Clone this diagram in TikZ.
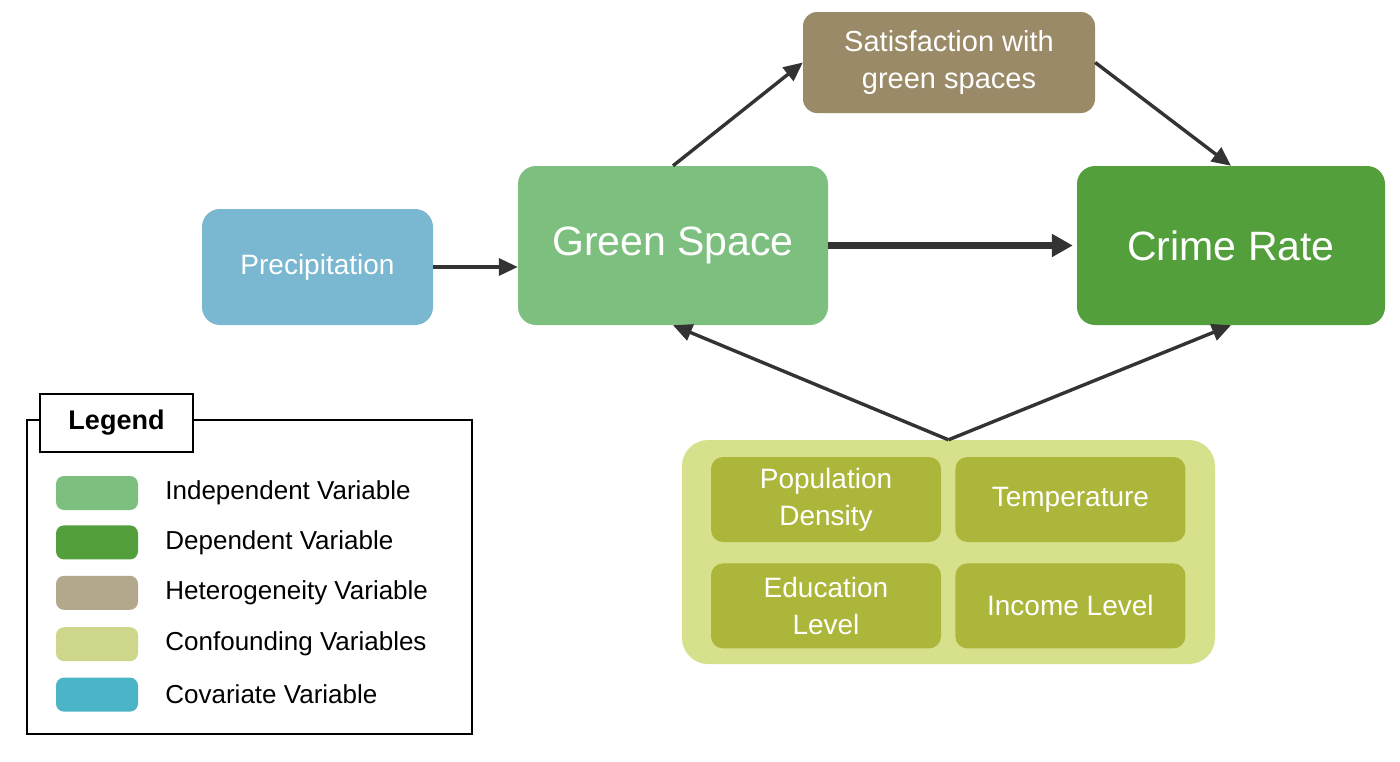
\documentclass[tikz,border=0pt]{standalone}
\usepackage{fontspec}
\setmainfont{Liberation Sans}
\usepackage{xcolor}
\usepackage{tikz}
\usetikzlibrary{positioning,arrows.meta}
\definecolor{covar}{HTML}{7AB7D1}
\definecolor{indep}{HTML}{7CBF7E}
\definecolor{dep}{HTML}{529F3B}
\definecolor{hetero}{HTML}{9A8A67}
\definecolor{confout}{HTML}{D7E18C}
\definecolor{confin}{HTML}{ABB63A}
\definecolor{leghetero}{HTML}{B3A88C}
\definecolor{legconf}{HTML}{CDD68B}
\definecolor{legcovar}{HTML}{4BB4C6}
\definecolor{ink}{HTML}{333333}
\newcommand{\bigtext}{\fontsize{41}{49}\selectfont}
\newcommand{\midtext}{\fontsize{28}{37}\selectfont}
\newcommand{\legtext}{\fontsize{26}{30}\selectfont}

\begin{document}
\begin{tikzpicture}[x=1pt,y=-1pt,every node/.style={font=\midtext},
      var/.style={rounded corners=18pt,text=white,align=center,inner sep=0pt},
      conf/.style={var,fill=confin,minimum width=230pt,minimum height=85pt,rounded corners=12pt},
      swatch/.style={rounded corners=8pt,minimum width=82pt,minimum height=34pt,inner sep=0pt},
      legtext/.style={anchor=west,inner sep=0pt,text=black,font=\legtext},
      arrow/.style={-{Triangle[length=19pt,width=17pt]},line width=3.4pt,ink}]
      \fill[white] (0,0) rectangle (1400,761);
      \useasboundingbox (0,0) rectangle (1400,761);
      % main variables
      \node[var,fill=covar,minimum width=231pt,minimum height=116pt] (precip) at (317.5,267) {Precipitation};
      \node[var,fill=indep,minimum width=310pt,minimum height=159pt,font=\bigtext] (green) at (673,245.5) {Green Space};
      \node[var,fill=dep,minimum width=308pt,minimum height=159pt,font=\bigtext] (crime) at (1231,245.5) {Crime Rate};
      \node[var,fill=hetero,minimum width=292pt,minimum height=101pt,rounded corners=14pt,font=\fontsize{29}{37}\selectfont] (satis) at (949,62.5) {Satisfaction with\\green spaces};
      % confounders
      \node[var,fill=confout,minimum width=533pt,minimum height=224pt,rounded corners=26pt] (conf) at (948.5,552) {};
      \node[conf] (popdens) at (826,499.5) {Population\\Density};
      \node[conf,right=14pt of popdens] (temp) {Temperature};
      \node[conf,below=21pt of popdens] (edu) {Education\\Level};
      \node[conf,right=14pt of edu] (income) {Income Level};
      % connectors
      \draw[arrow] (precip.east) -- (precip.east -| green.west);
      \draw[arrow,line width=6.5pt,-{Triangle[length=21pt,width=22pt]},shorten >=4pt] (green.east) -- (crime.west);
      \draw[arrow] (green.north) -- (satis.west);
      \draw[arrow] (satis.east) -- (crime.north);
      \draw[arrow] (conf.north) -- (green.south);
      \draw[arrow] (conf.north) -- (crime.south);
      % legend
      \node[draw=black,line width=1.3pt,minimum width=445pt,minimum height=314pt,inner sep=0pt] (legbox) at (249.5,577) {};
      \node[draw=black,line width=1.3pt,fill=white,minimum width=153pt,minimum height=58pt,inner sep=0pt,font=\fontsize{27}{30}\selectfont\bfseries] (legtitle) at (116.5,423) {Legend};
      \node[swatch,fill=indep] (sw1) at (97,493) {};
      \node[swatch,fill=dep,below=15pt of sw1] (sw2) {};
      \node[swatch,fill=leghetero,below=16pt of sw2] (sw3) {};
      \node[swatch,fill=legconf,below=17pt of sw3] (sw4) {};
      \node[swatch,fill=legcovar,below=16pt of sw4] (sw5) {};
      \node[legtext,right=27pt of sw1] {Independent Variable};
      \node[legtext,right=27pt of sw2] {Dependent Variable};
      \node[legtext,right=27pt of sw3] {Heterogeneity Variable};
      \node[legtext,right=27pt of sw4] {Confounding Variables};
      \node[legtext,right=27pt of sw5] {Covariate Variable};
    \end{tikzpicture}
\end{document}
